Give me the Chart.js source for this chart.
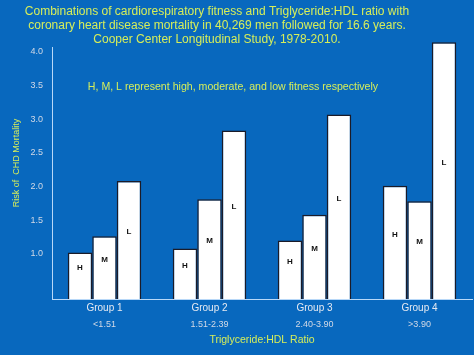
<!DOCTYPE html>
<html><head><meta charset="utf-8">
<script src="https://cdn.jsdelivr.net/npm/chart.js@4/dist/chart.umd.min.js"></script>
<style>html,body{margin:0;padding:0;background:#0868be;overflow:hidden}</style>
</head><body><canvas id="c" width="474" height="355"></canvas>
<script>
const groups = ['Group 1', 'Group 2', 'Group 3', 'Group 4'];
const ratioRanges = ['<1.51', '1.51-2.39', '2.40-3.90', '>3.90'];
const fitnessLetters = ['H', 'M', 'L'];
const highFitness = [1.02, 1.08, 1.20, 2.01];
const moderateFitness = [1.26, 1.81, 1.58, 1.78];
const lowFitness = [2.08, 2.83, 3.07, 4.14];
const yTicks = [1.0, 1.5, 2.0, 2.5, 3.0, 3.5, 4.0];
const yMin = 0.33;
const yMax = 4.07;
const titleLines = [
  'Combinations of cardiorespiratory fitness and Triglyceride:HDL ratio with',
  'coronary heart disease mortality in 40,269 men followed for 16.6 years.',
  'Cooper Center Longitudinal Study, 1978-2010.'
];
const noteText = 'H, M, L represent high, moderate, and low fitness respectively';
const yTitle = 'Risk of  CHD Mortality';
const xTitle = 'Triglyceride:HDL Ratio';

const BG = '#0868be';
const YG = '#d6ee5a';
const FONT = '"Liberation Sans", Arial, sans-serif';

const bgPlugin = {
  id: 'bg',
  beforeDraw(chart) {
    const ctx = chart.ctx;
    ctx.save();
    ctx.fillStyle = BG;
    ctx.fillRect(0, 0, chart.width, chart.height);
    ctx.restore();
  }
};

const textPlugin = {
  id: 'texts',
  afterDraw(chart) {
    const ctx = chart.ctx;
    ctx.save();
    ctx.fillStyle = YG;
    ctx.textAlign = 'center';
    ctx.textBaseline = 'middle';
    ctx.font = '12px ' + FONT;
    titleLines.forEach((t, i) => ctx.fillText(t, 217, 12 + i * 14));
    ctx.font = '10.6px ' + FONT;
    ctx.fillText(noteText, 233, 87);
    ctx.translate(17, 163);
    ctx.rotate(-Math.PI / 2);
    ctx.font = '9px ' + FONT;
    ctx.fillText(yTitle, 0, 0);
    ctx.restore();
  },
  afterDatasetsDraw(chart) {
    const ctx = chart.ctx;
    ctx.save();
    ctx.fillStyle = '#111';
    ctx.font = 'bold 8px ' + FONT;
    ctx.textAlign = 'center';
    ctx.textBaseline = 'middle';
    chart.data.datasets.forEach((ds, di) => {
      chart.getDatasetMeta(di).data.forEach(bar => {
        const p = bar.getProps(['x', 'y', 'base'], true);
        ctx.fillText(fitnessLetters[di], p.x, (p.y + p.base) / 2 - 8);
      });
    });
    ctx.restore();
  }
};

const barStyle = {
  backgroundColor: '#ffffff',
  borderColor: '#1b1b28',
  borderWidth: 1.5,
  categoryPercentage: 0.7,
  barPercentage: 1.0,
  base: yMin,
  clip: false
};

new Chart(document.getElementById('c'), {
  type: 'bar',
  data: {
    labels: groups,
    datasets: [
      Object.assign({ label: 'High fitness', data: highFitness }, barStyle),
      Object.assign({ label: 'Moderate fitness', data: moderateFitness }, barStyle),
      Object.assign({ label: 'Low fitness', data: lowFitness }, barStyle)
    ]
  },
  options: {
    responsive: false,
    devicePixelRatio: 1,
    animation: false,
    layout: { padding: { top: 47, right: 2, left: 0, bottom: 9 } },
    plugins: { legend: { display: false }, tooltip: { enabled: false }, title: { display: false } },
    scales: {
      x: {
        type: 'category',
        offset: true,
        grid: { display: false, tickLength: 0 },
        border: { color: '#b8d8f8', width: 1 },
        ticks: { color: '#e6eaf2', font: { size: 10, family: FONT }, padding: 3 },
        afterFit(s) { s.height = 20; }
      },
      x2: {
        type: 'category',
        labels: ratioRanges,
        position: 'bottom',
        offset: true,
        grid: { display: false, tickLength: 0 },
        border: { display: false },
        ticks: { color: '#d2d9e6', font: { size: 9, family: FONT }, padding: 0 },
        title: { display: true, text: xTitle, color: YG, font: { size: 10.5, family: FONT }, padding: { top: 2, bottom: 0 } },
        afterFit(s) { s.height = 27; }
      },
      y: {
        type: 'linear',
        min: yMin,
        max: yMax,
        grid: { display: false },
        border: { color: '#b8d8f8', width: 1 },
        afterBuildTicks(s) { s.ticks = yTicks.map(v => ({ value: v })); },
        ticks: {
          color: '#d2d9e6',
          font: { size: 9, family: FONT },
          padding: 1,
          callback: v => v.toFixed(1)
        },
        afterFit(s) { s.width = 52; }
      }
    }
  },
  plugins: [bgPlugin, textPlugin]
});
</script>
</body></html>
